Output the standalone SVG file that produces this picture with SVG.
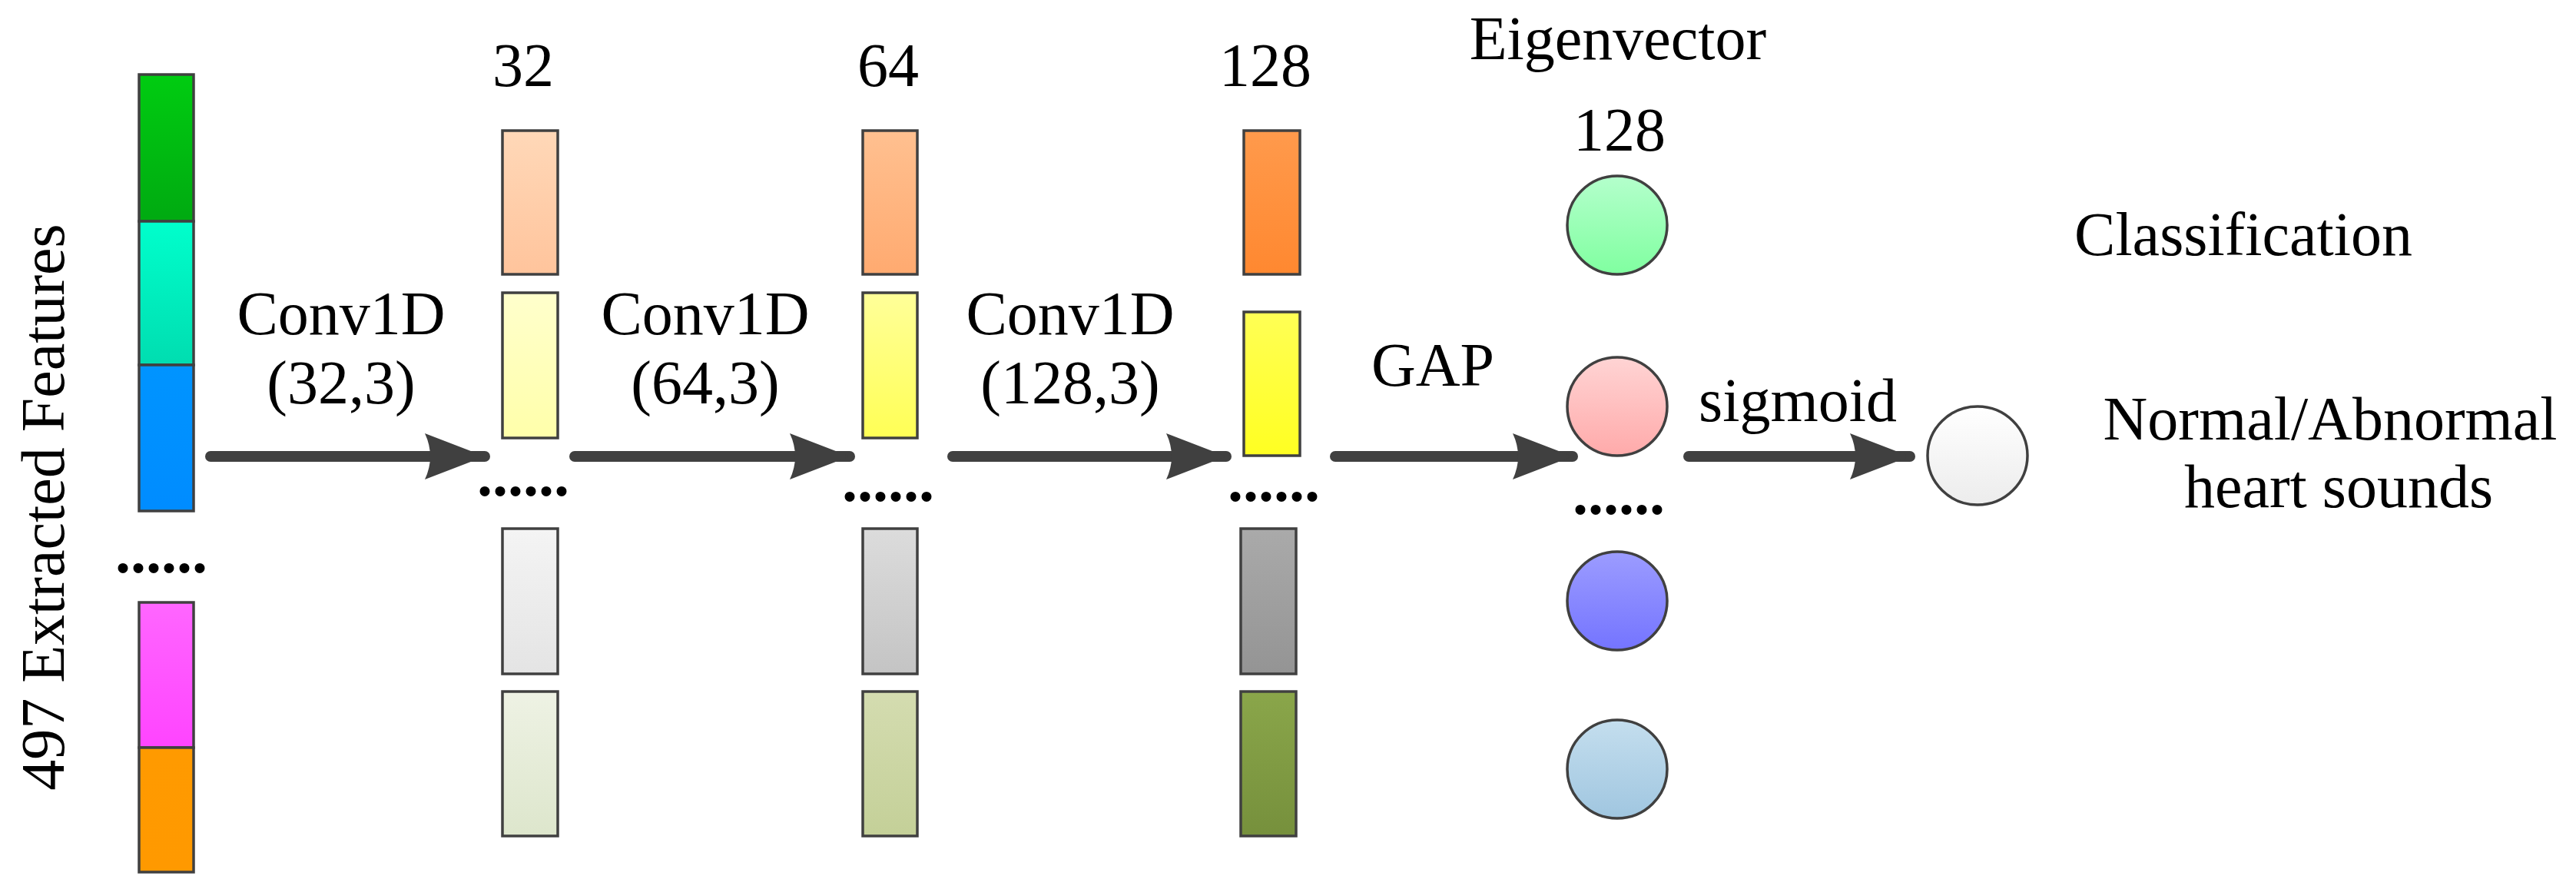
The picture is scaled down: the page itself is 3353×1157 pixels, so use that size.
<svg xmlns="http://www.w3.org/2000/svg" width="3353" height="1157" viewBox="0 0 3353 1157">
<style>
.b{stroke:#404040;stroke-width:3.5}
.t{font-family:"Liberation Serif",serif;font-size:80px;fill:#000;text-anchor:middle}
.d{font-family:"Liberation Serif",serif;font-size:80px;fill:#000;text-anchor:middle;font-weight:bold}
.a{stroke:#404040;stroke-width:14;stroke-linecap:round;fill:none;marker-end:url(#ah)}
</style>
<defs>
<marker id="ah" markerUnits="userSpaceOnUse" markerWidth="80" markerHeight="70" refX="78" refY="30" orient="auto" viewBox="0 0 80 60"><path d="M0,0 L78,30 L0,60 Q14,30 0,0 Z" fill="#404040"/></marker>
<linearGradient id="g1" x1="0" y1="0" x2="0" y2="1"><stop offset="0" stop-color="#00cc11"/><stop offset="1" stop-color="#00aa11"/></linearGradient>
<linearGradient id="g2" x1="0" y1="0" x2="0" y2="1"><stop offset="0" stop-color="#00ffcc"/><stop offset="1" stop-color="#00ddb0"/></linearGradient>
<linearGradient id="g3" x1="0" y1="0" x2="0" y2="1"><stop offset="0" stop-color="#0094ff"/><stop offset="1" stop-color="#008cff"/></linearGradient>
<linearGradient id="g4" x1="0" y1="0" x2="0" y2="1"><stop offset="0" stop-color="#ff66ff"/><stop offset="1" stop-color="#ff44ff"/></linearGradient>
<linearGradient id="g5" x1="0" y1="0" x2="0" y2="1"><stop offset="0" stop-color="#ff9a00"/><stop offset="1" stop-color="#ff9900"/></linearGradient>
<linearGradient id="a1" x1="0" y1="0" x2="0" y2="1"><stop offset="0" stop-color="#ffd8b8"/><stop offset="1" stop-color="#ffc49c"/></linearGradient>
<linearGradient id="a2" x1="0" y1="0" x2="0" y2="1"><stop offset="0" stop-color="#ffffcc"/><stop offset="1" stop-color="#ffffaa"/></linearGradient>
<linearGradient id="a3" x1="0" y1="0" x2="0" y2="1"><stop offset="0" stop-color="#f4f4f4"/><stop offset="1" stop-color="#e4e4e4"/></linearGradient>
<linearGradient id="a4" x1="0" y1="0" x2="0" y2="1"><stop offset="0" stop-color="#eef2e4"/><stop offset="1" stop-color="#dde6cc"/></linearGradient>
<linearGradient id="b1" x1="0" y1="0" x2="0" y2="1"><stop offset="0" stop-color="#ffc090"/><stop offset="1" stop-color="#ffaa70"/></linearGradient>
<linearGradient id="b2" x1="0" y1="0" x2="0" y2="1"><stop offset="0" stop-color="#ffff99"/><stop offset="1" stop-color="#ffff55"/></linearGradient>
<linearGradient id="b3" x1="0" y1="0" x2="0" y2="1"><stop offset="0" stop-color="#dcdcdc"/><stop offset="1" stop-color="#c4c4c4"/></linearGradient>
<linearGradient id="b4" x1="0" y1="0" x2="0" y2="1"><stop offset="0" stop-color="#d4dcb0"/><stop offset="1" stop-color="#c4d098"/></linearGradient>
<linearGradient id="c1" x1="0" y1="0" x2="0" y2="1"><stop offset="0" stop-color="#ff9a4c"/><stop offset="1" stop-color="#ff8830"/></linearGradient>
<linearGradient id="c2" x1="0" y1="0" x2="0" y2="1"><stop offset="0" stop-color="#ffff55"/><stop offset="1" stop-color="#ffff22"/></linearGradient>
<linearGradient id="c3" x1="0" y1="0" x2="0" y2="1"><stop offset="0" stop-color="#aaaaaa"/><stop offset="1" stop-color="#949494"/></linearGradient>
<linearGradient id="c4" x1="0" y1="0" x2="0" y2="1"><stop offset="0" stop-color="#8aa64a"/><stop offset="1" stop-color="#76903c"/></linearGradient>
<linearGradient id="e1" x1="0" y1="0" x2="0" y2="1"><stop offset="0" stop-color="#b4ffcc"/><stop offset="1" stop-color="#80ffa0"/></linearGradient>
<linearGradient id="e2" x1="0" y1="0" x2="0" y2="1"><stop offset="0" stop-color="#ffd4d4"/><stop offset="1" stop-color="#ffaaaa"/></linearGradient>
<linearGradient id="e3" x1="0" y1="0" x2="0" y2="1"><stop offset="0" stop-color="#9c9cff"/><stop offset="1" stop-color="#7474ff"/></linearGradient>
<linearGradient id="e4" x1="0" y1="0" x2="0" y2="1"><stop offset="0" stop-color="#c4deee"/><stop offset="1" stop-color="#a0c6e0"/></linearGradient>
<linearGradient id="e5" x1="0" y1="0" x2="0" y2="1"><stop offset="0" stop-color="#ffffff"/><stop offset="1" stop-color="#ececec"/></linearGradient>
</defs>
<rect width="3353" height="1157" fill="#fff"/>
<g id="input">
<rect class="b" x="181" y="97" width="71" height="191" fill="url(#g1)"/>
<rect class="b" x="181" y="288" width="71" height="187" fill="url(#g2)"/>
<rect class="b" x="181" y="475" width="71" height="190" fill="url(#g3)"/>
<text class="d" x="210" y="745">......</text>
<rect class="b" x="181" y="784" width="71" height="189" fill="url(#g4)"/>
<rect class="b" x="181" y="973" width="71" height="162" fill="url(#g5)"/>
<text class="t" transform="translate(83,660) rotate(-90)">497 Extracted Features</text>
</g>
<g id="layer32">
<text class="t" x="681" y="112">32</text>
<rect class="b" x="654" y="170" width="72" height="187" fill="url(#a1)"/>
<rect class="b" x="654" y="381" width="72" height="189" fill="url(#a2)"/>
<text class="d" x="681" y="645">......</text>
<rect class="b" x="654" y="688" width="72" height="189" fill="url(#a3)"/>
<rect class="b" x="654" y="900" width="72" height="188" fill="url(#a4)"/>
</g>
<g id="layer64">
<text class="t" x="1156" y="112">64</text>
<rect class="b" x="1123" y="170" width="71" height="187" fill="url(#b1)"/>
<rect class="b" x="1123" y="381" width="71" height="189" fill="url(#b2)"/>
<text class="d" x="1156" y="652">......</text>
<rect class="b" x="1123" y="688" width="71" height="189" fill="url(#b3)"/>
<rect class="b" x="1123" y="900" width="71" height="188" fill="url(#b4)"/>
</g>
<g id="layer128">
<text class="t" x="1647" y="112">128</text>
<rect class="b" x="1619" y="170" width="73" height="187" fill="url(#c1)"/>
<rect class="b" x="1619" y="406" width="73" height="187" fill="url(#c2)"/>
<text class="d" x="1658" y="652">......</text>
<rect class="b" x="1615" y="688" width="72" height="189" fill="url(#c3)"/>
<rect class="b" x="1615" y="900" width="72" height="188" fill="url(#c4)"/>
</g>
<g id="eigen">
<text class="t" x="2106" y="77">Eigenvector</text>
<text class="t" x="2108" y="196">128</text>
<ellipse class="b" cx="2105" cy="293" rx="65" ry="64" fill="url(#e1)"/>
<ellipse class="b" cx="2105" cy="529" rx="65" ry="64" fill="url(#e2)"/>
<text class="d" x="2107" y="669">......</text>
<ellipse class="b" cx="2105" cy="782" rx="65" ry="64" fill="url(#e3)"/>
<ellipse class="b" cx="2105" cy="1001" rx="65" ry="64" fill="url(#e4)"/>
</g>
<g id="output">
<ellipse class="b" cx="2574" cy="593" rx="65" ry="64" fill="url(#e5)"/>
<text class="t" x="2920" y="332">Classification</text>
<text class="t" x="3033" y="572">Normal/Abnormal</text>
<text class="t" x="3044" y="660">heart sounds</text>
</g>
<g id="connectors">
<line class="a" x1="274" y1="594" x2="631" y2="594"/>
<line class="a" x1="748" y1="594" x2="1106" y2="594"/>
<line class="a" x1="1240" y1="594" x2="1596" y2="594"/>
<line class="a" x1="1738" y1="594" x2="2047" y2="594"/>
<line class="a" x1="2198" y1="594" x2="2486" y2="594"/>
<text class="t" x="444" y="435">Conv1D</text>
<text class="t" x="444" y="525">(32,3)</text>
<text class="t" x="918" y="435">Conv1D</text>
<text class="t" x="918" y="525">(64,3)</text>
<text class="t" x="1393" y="435">Conv1D</text>
<text class="t" x="1393" y="525">(128,3)</text>
<text class="t" x="1865" y="502">GAP</text>
<text class="t" x="2340" y="548">sigmoid</text>
</g>
</svg>
